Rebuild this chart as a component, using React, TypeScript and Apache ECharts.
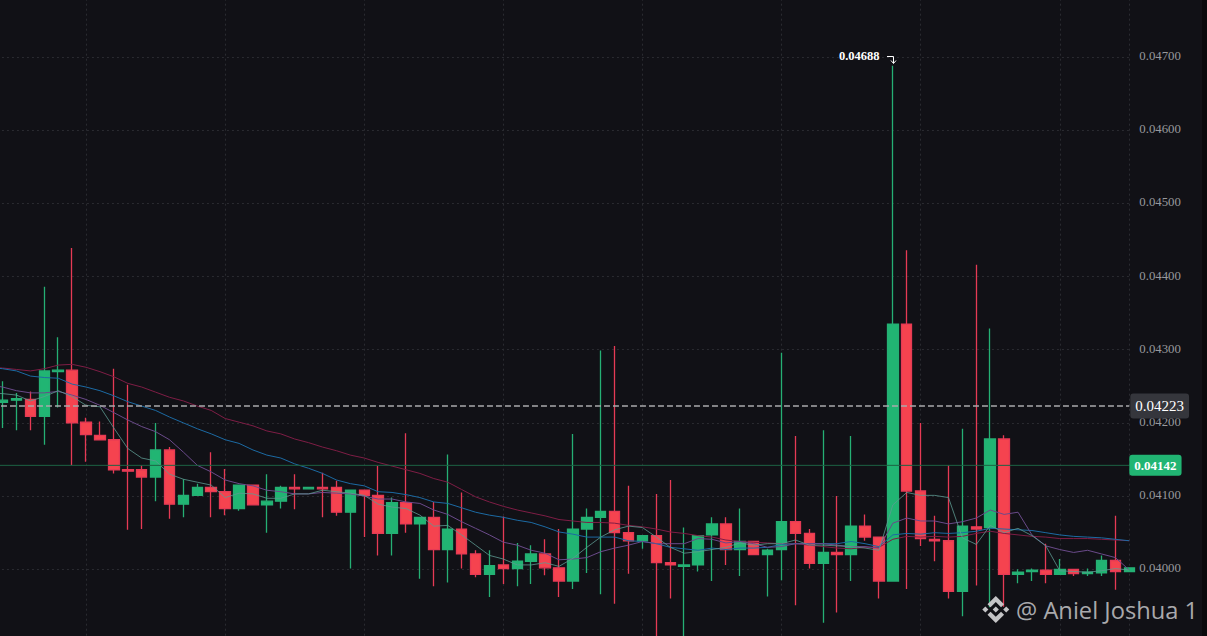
import React, { useEffect, useRef } from "react";
import * as echarts from "echarts";

const firstIndex = 4;
const opens = [0.04228,0.04231,0.04232,0.04209,0.04270,0.04272,0.04201,0.04183,0.04177,0.04136,0.04136,0.04126,0.04163,0.04089,0.04101,0.04112,0.04106,0.04083,0.04115,0.04088,0.04093,0.04112,0.04110,0.04112,0.04112,0.04078,0.04108,0.04101,0.04049,0.04091,0.04062,0.04071,0.04027,0.04055,0.04021,0.03993,0.04006,0.04001,0.04011,0.04021,0.04002,0.03984,0.04055,0.04071,0.04079,0.04050,0.04039,0.04046,0.04009,0.04004,0.04006,0.04047,0.04062,0.04027,0.04038,0.04020,0.04027,0.04065,0.04049,0.04008,0.04023,0.04020,0.04059,0.04044,0.03984,0.04335,0.04107,0.04041,0.04039,0.03970,0.04058,0.04057,0.04178,0.03993,0.03997,0.03999,0.03993,0.04000,0.03994,0.03995,0.04012,0.03997];
const closes = [0.04231,0.04233,0.04209,0.04271,0.04272,0.04200,0.04184,0.04177,0.04136,0.04134,0.04126,0.04163,0.04089,0.04101,0.04112,0.04106,0.04083,0.04115,0.04088,0.04093,0.04112,0.04110,0.04112,0.04110,0.04078,0.04108,0.04101,0.04049,0.04091,0.04062,0.04071,0.04027,0.04055,0.04021,0.03993,0.04005,0.04001,0.04011,0.04021,0.04002,0.03984,0.04055,0.04071,0.04079,0.04050,0.04039,0.04046,0.04009,0.04006,0.04006,0.04046,0.04062,0.04027,0.04038,0.04020,0.04026,0.04065,0.04049,0.04008,0.04023,0.04020,0.04059,0.04044,0.03984,0.04335,0.04107,0.04042,0.04039,0.03970,0.04059,0.04055,0.04178,0.03993,0.03996,0.03999,0.03993,0.04000,0.03994,0.03996,0.04012,0.03997,0.04002];
const lows = [0.04193,0.04190,0.04190,0.04170,0.04221,0.04142,0.04147,0.04177,0.04131,0.04054,0.04055,0.04093,0.04069,0.04071,0.04101,0.04071,0.04074,0.04080,0.04088,0.04050,0.04083,0.04082,0.04110,0.04071,0.04073,0.04001,0.04044,0.04019,0.04019,0.04050,0.03987,0.03977,0.03982,0.04001,0.03989,0.03962,0.03980,0.03977,0.03980,0.03992,0.03962,0.03973,0.03995,0.03966,0.03953,0.03994,0.04028,0.03905,0.03960,0.03905,0.03997,0.03984,0.04006,0.03991,0.04020,0.03963,0.03985,0.03951,0.04001,0.03927,0.03941,0.03984,0.04039,0.03960,0.03984,0.03973,0.04032,0.04011,0.03960,0.03936,0.03978,0.03948,0.03949,0.03981,0.03984,0.03981,0.03993,0.03991,0.03991,0.03991,0.03972,0.03997];
const highs = [0.04257,0.04241,0.04243,0.04386,0.04317,0.04439,0.04207,0.04202,0.04274,0.04252,0.04142,0.04200,0.04167,0.04123,0.04117,0.04160,0.04137,0.04115,0.04115,0.04130,0.04114,0.04130,0.04112,0.04132,0.04121,0.04108,0.04108,0.04141,0.04098,0.04186,0.04071,0.04092,0.04157,0.04105,0.04026,0.04026,0.04072,0.04036,0.04033,0.04041,0.04055,0.04185,0.04083,0.04299,0.04305,0.04114,0.04046,0.04103,0.04122,0.04057,0.04046,0.04071,0.04071,0.04083,0.04038,0.04028,0.04296,0.04182,0.04055,0.04190,0.04100,0.04182,0.04075,0.04044,0.04688,0.04436,0.04200,0.04073,0.04142,0.04192,0.04416,0.04329,0.04183,0.04000,0.04001,0.04035,0.04014,0.04000,0.04001,0.04019,0.04073,0.04002];

// Moving averages start one candle earlier than the first visible candle.
const maShort = [0.04241,0.04240,0.04238,0.04230,0.04236,0.04244,0.04236,0.04224,0.04222,0.04193,0.04165,0.04152,0.04148,0.04130,0.04123,0.04119,0.04115,0.04098,0.04104,0.04103,0.04097,0.04097,0.04103,0.04103,0.04108,0.04106,0.04104,0.04101,0.04089,0.04085,0.04083,0.04074,0.04059,0.04060,0.04047,0.04033,0.04019,0.04014,0.04006,0.04006,0.04009,0.04004,0.04015,0.04030,0.04044,0.04054,0.04059,0.04057,0.04044,0.04030,0.04022,0.04024,0.04027,0.04030,0.04036,0.04033,0.04035,0.04035,0.04040,0.04033,0.04033,0.04032,0.04031,0.04029,0.04026,0.04088,0.04105,0.04101,0.04101,0.04098,0.04043,0.04034,0.04060,0.04050,0.04056,0.04046,0.04032,0.03998,0.03997,0.03996,0.03998,0.04001,0.03999];
const maMid = [0.04252,0.04249,0.04244,0.04241,0.04241,0.04243,0.04238,0.04232,0.04224,0.04214,0.04204,0.04195,0.04188,0.04177,0.04160,0.04142,0.04133,0.04122,0.04117,0.04114,0.04108,0.04106,0.04103,0.04103,0.04105,0.04104,0.04103,0.04100,0.04096,0.04096,0.04092,0.04090,0.04081,0.04075,0.04065,0.04056,0.04047,0.04037,0.04033,0.04026,0.04022,0.04013,0.04014,0.04016,0.04024,0.04029,0.04033,0.04038,0.04035,0.04035,0.04035,0.04042,0.04041,0.04036,0.04038,0.04035,0.04030,0.04031,0.04035,0.04035,0.04035,0.04033,0.04031,0.04031,0.04029,0.04063,0.04070,0.04066,0.04066,0.04062,0.04065,0.04070,0.04081,0.04075,0.04078,0.04047,0.04032,0.04027,0.04023,0.04026,0.04021,0.04016,0.03999];
const maLong = [0.04276,0.04274,0.04271,0.04264,0.04262,0.04261,0.04253,0.04249,0.04244,0.04237,0.04229,0.04223,0.04217,0.04208,0.04200,0.04192,0.04185,0.04177,0.04172,0.04163,0.04156,0.04152,0.04144,0.04138,0.04131,0.04122,0.04117,0.04114,0.04106,0.04105,0.04102,0.04098,0.04092,0.04090,0.04084,0.04078,0.04074,0.04071,0.04067,0.04064,0.04058,0.04051,0.04048,0.04044,0.04044,0.04044,0.04039,0.04038,0.04035,0.04030,0.04028,0.04026,0.04029,0.04027,0.04029,0.04029,0.04030,0.04034,0.04035,0.04035,0.04035,0.04035,0.04038,0.04035,0.04031,0.04047,0.04049,0.04048,0.04050,0.04049,0.04050,0.04052,0.04056,0.04055,0.04054,0.04053,0.04050,0.04047,0.04045,0.04044,0.04043,0.04041,0.04039];
const maSlow = [0.04276,0.04275,0.04273,0.04271,0.04274,0.04279,0.04280,0.04276,0.04270,0.04263,0.04254,0.04249,0.04242,0.04235,0.04230,0.04223,0.04217,0.04206,0.04201,0.04196,0.04189,0.04185,0.04178,0.04173,0.04167,0.04162,0.04156,0.04152,0.04146,0.04141,0.04136,0.04131,0.04124,0.04119,0.04109,0.04099,0.04092,0.04086,0.04081,0.04077,0.04073,0.04068,0.04066,0.04064,0.04064,0.04063,0.04060,0.04058,0.04055,0.04051,0.04049,0.04046,0.04044,0.04040,0.04038,0.04037,0.04036,0.04035,0.04035,0.04033,0.04031,0.04029,0.04028,0.04030,0.04030,0.04041,0.04045,0.04044,0.04045,0.04044,0.04045,0.04049,0.04052,0.04049,0.04047,0.04045,0.04044,0.04042,0.04042,0.04042,0.04041,0.04040,0.04039];

const lastPrice = 0.04223;
const markPrice = 0.04142;
const maxLabel = "0.04688";
const watermark = "@ Aniel Joshua 1";

const BG = "#111116";
const UP = "#21b573";
const DOWN = "#f5434f";
const SERIF = "'Liberation Serif', serif";

const logoPath =
  "M38.73 53.2L63.32 28.62L87.92 53.22L102.22 38.91L63.32 0L24.43 38.9Z" +
  "M0 63.31L14.3 49L28.61 63.31L14.3 77.61Z" +
  "M38.73 73.41L63.32 98L87.92 73.4L102.23 87.69L63.33 126.6L24.42 87.72L24.42 87.69Z" +
  "M98 63.31L112.3 49L126.61 63.3L112.3 77.62Z" +
  "M77.83 63.3L63.32 48.78L48.81 63.28L63.32 77.78Z";

export default function App() {
  const ref = useRef<HTMLDivElement>(null);
  useEffect(() => {
    if (!ref.current) return;
    echarts.graphic.registerShape("logo", echarts.graphic.extendPath(logoPath, {}));
    const chart = echarts.init(ref.current, undefined, { renderer: "svg" });
    const xOf = (i: number) => i + firstIndex;
    const lineOf = (name: string, values: number[], color: string, width: number) => ({
      type: "line",
      name,
      data: values.map((v, i) => [xOf(i - 1), v]),
      showSymbol: false,
      symbol: "none",
      z: 5,
      lineStyle: { color, width },
    });
    const levelOf = (name: string, price: number, lineStyle: any, label: any) => ({
      type: "line",
      name,
      data: [[0, price], [85, price]],
      showSymbol: false,
      symbol: "none",
      z: 6,
      lineStyle,
      endLabel: { show: true, formatter: () => price.toFixed(5), ...label },
    });
    chart.setOption({
      animation: false,
      backgroundColor: BG,
      grid: { left: -53.04, top: -16.3, width: 1182.35, height: 658.8, containLabel: false, outerBoundsMode: "none" },
      xAxis: {
        type: "value",
        min: 0,
        max: 85,
        interval: 10,
        axisLine: { show: false },
        axisTick: { show: false },
        axisLabel: { show: false },
        splitLine: { show: true, lineStyle: { color: "#2a2b30", type: [2, 3], width: 1 } },
      },
      yAxis: {
        type: "value",
        position: "right",
        min: 0.039,
        max: 0.048,
        interval: 0.001,
        axisLine: { show: true, lineStyle: { color: "#4a4b50", width: 1 } },
        axisTick: { show: true, length: 5, lineStyle: { color: "#3a3b40" } },
        axisLabel: {
          margin: 10,
          color: "#98999d",
          fontFamily: SERIF,
          fontSize: 12.8,
          verticalAlign: "bottom",
          lineHeight: 2,
          showMinLabel: false,
          showMaxLabel: false,
          formatter: (v: number) => v.toFixed(5),
        },
        splitLine: { show: true, lineStyle: { color: "#2a2b30", type: [2, 3], width: 1 } },
      },
      series: [
        {
          type: "candlestick",
          z: 3,
          barWidth: 11,
          data: opens.map((o, i) => [xOf(i), o, closes[i], lows[i], highs[i]]),
          itemStyle: {
            color: UP,
            color0: DOWN,
            borderColor: "#25b074",
            borderColor0: "#e63a55",
            borderWidth: 1.3,
          },
        },
        lineOf("MA slow", maSlow, "#7e1d45", 1),
        lineOf("MA long", maLong, "#1c6aa3", 1),
        lineOf("MA mid", maMid, "#6a4a8a", 1),
        lineOf("MA short", maShort, "#5d9a92", 0.8),
        levelOf("Mark price", markPrice, { color: "#1d6344", type: "solid", width: 1 }, {
          distance: 0,
          color: "#ffffff",
          fontFamily: SERIF,
          fontWeight: "bold",
          fontSize: 13,
          backgroundColor: UP,
          borderRadius: 3,
          padding: [4, 5],
        }),
        levelOf("Last price", lastPrice, { color: "#a9a9ac", type: [6, 3], width: 1.5 }, {
          distance: 1,
          color: "#ffffff",
          fontFamily: SERIF,
          fontSize: 15,
          backgroundColor: "#35363c",
          borderRadius: 3,
          padding: [5, 5],
        }),
      ],
      graphic: [
        { type: "rect", silent: true, z: 100, shape: { x: 1202, y: 0, width: 5, height: 636 }, style: { fill: "#0a0a0c" } },
        {
          type: "text",
          silent: true,
          z: 100,
          x: 879.5,
          y: 55.7,
          style: { text: maxLabel, fill: "#ffffff", font: `bold 12.5px ${SERIF}`, textAlign: "right", textVerticalAlign: "middle" },
        },
        { type: "polyline", silent: true, z: 100, shape: { points: [[887, 56.5], [893.5, 56.5], [893.5, 63]] }, style: { stroke: "#ffffff", lineWidth: 1, fill: "none" } },
        { type: "polyline", silent: true, z: 100, shape: { points: [[891, 60.5], [893.5, 63.5], [896, 60.5]] }, style: { stroke: "#ffffff", lineWidth: 1, fill: "none" } },
        { type: "logo", silent: true, z: 100, x: 982.3, y: 596, scaleX: 0.2133, scaleY: 0.2133, style: { fill: "#c4c4c6" } },
        {
          type: "text",
          silent: true,
          z: 100,
          x: 1016,
          y: 610,
          style: { text: watermark, fill: "#a9a9ac", font: "23.7px 'Open Sans', sans-serif", textAlign: "left", textVerticalAlign: "middle" },
        },
      ],
    });
    return () => chart.dispose();
  }, []);
  return <div ref={ref} style={{ position: "fixed", left: 0, top: 0, width: 1207, height: 636 }} />;
}
